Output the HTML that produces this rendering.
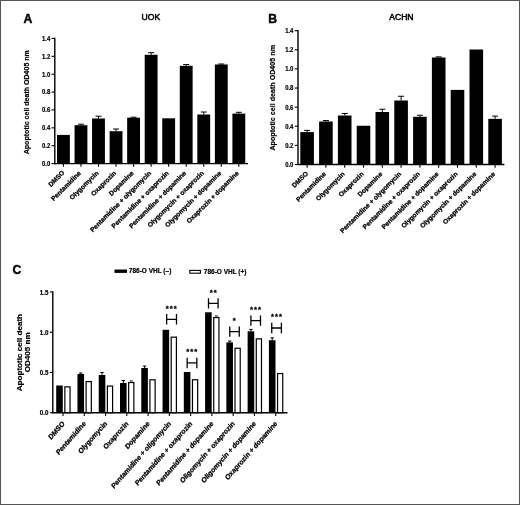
<!DOCTYPE html>
<html><head><meta charset="utf-8"><title>Figure</title>
<style>
html,body{margin:0;padding:0;background:#fff;}
body{width:520px;height:505px;overflow:hidden;}
#fig{position:relative;width:518px;height:503px;border:1px solid #555;background:#fff;}
svg{position:absolute;left:-1px;top:-1px;display:block;}
svg text{font-family:"Liberation Sans", Arial, sans-serif;fill:#000;stroke:#000;stroke-width:0.2px;stroke-linejoin:round;}
svg text.big{stroke-width:0.45px;}
svg text.xl{stroke-width:0.28px;}
svg text.ttl{stroke-width:0.5px;}
svg text.star{stroke-width:0.3px;letter-spacing:1.04px;}
</style></head><body>
<div id="fig">
<svg width="520" height="505" viewBox="0 0 520 505">
<text x="23.4" y="22.6" class="big" font-size="12.2" font-weight="bold">A</text>
<text x="150.8" y="19.7" class="ttl" font-size="8.6" text-anchor="middle">UOK</text>
<line x1="54.8" y1="37.84" x2="54.8" y2="164.2" stroke="#000" stroke-width="1.4"/>
<line x1="54.2" y1="163.6" x2="248" y2="163.6" stroke="#000" stroke-width="1.4"/>
<line x1="51.5" y1="163.6" x2="54.8" y2="163.6" stroke="#000" stroke-width="1.1"/>
<text transform="translate(50.2,165.98) scale(0.9,1)" font-size="6.6" font-weight="bold" text-anchor="end">0.0</text>
<line x1="51.5" y1="145.72" x2="54.8" y2="145.72" stroke="#000" stroke-width="1.1"/>
<text transform="translate(50.2,148.1) scale(0.9,1)" font-size="6.6" font-weight="bold" text-anchor="end">0.2</text>
<line x1="51.5" y1="127.84" x2="54.8" y2="127.84" stroke="#000" stroke-width="1.1"/>
<text transform="translate(50.2,130.22) scale(0.9,1)" font-size="6.6" font-weight="bold" text-anchor="end">0.4</text>
<line x1="51.5" y1="109.96" x2="54.8" y2="109.96" stroke="#000" stroke-width="1.1"/>
<text transform="translate(50.2,112.34) scale(0.9,1)" font-size="6.6" font-weight="bold" text-anchor="end">0.6</text>
<line x1="51.5" y1="92.08" x2="54.8" y2="92.08" stroke="#000" stroke-width="1.1"/>
<text transform="translate(50.2,94.46) scale(0.9,1)" font-size="6.6" font-weight="bold" text-anchor="end">0.8</text>
<line x1="51.5" y1="74.2" x2="54.8" y2="74.2" stroke="#000" stroke-width="1.1"/>
<text transform="translate(50.2,76.58) scale(0.9,1)" font-size="6.6" font-weight="bold" text-anchor="end">1.0</text>
<line x1="51.5" y1="56.32" x2="54.8" y2="56.32" stroke="#000" stroke-width="1.1"/>
<text transform="translate(50.2,58.7) scale(0.9,1)" font-size="6.6" font-weight="bold" text-anchor="end">1.2</text>
<line x1="51.5" y1="38.44" x2="54.8" y2="38.44" stroke="#000" stroke-width="1.1"/>
<text transform="translate(50.2,40.82) scale(0.9,1)" font-size="6.6" font-weight="bold" text-anchor="end">1.4</text>
<rect x="57" y="134.9" width="12.85" height="28.7" fill="#000"/>
<line x1="63.42" y1="163.6" x2="63.42" y2="166.8" stroke="#000" stroke-width="1.1"/>
<text class="xl" transform="translate(64.92,173.2) rotate(-45)" font-size="6.6" font-weight="bold" text-anchor="end">DMSO</text>
<line x1="80.96" y1="124.2" x2="80.96" y2="125.2" stroke="#000" stroke-width="1"/>
<line x1="77.96" y1="124.2" x2="83.96" y2="124.2" stroke="#000" stroke-width="1"/>
<rect x="74.54" y="125.2" width="12.85" height="38.4" fill="#000"/>
<line x1="80.96" y1="163.6" x2="80.96" y2="166.8" stroke="#000" stroke-width="1.1"/>
<text class="xl" transform="translate(81.46,173.6) rotate(-45)" font-size="6.6" font-weight="bold" text-anchor="end">Pentamidine</text>
<line x1="98.5" y1="116.2" x2="98.5" y2="118.5" stroke="#000" stroke-width="1"/>
<line x1="95.5" y1="116.2" x2="101.5" y2="116.2" stroke="#000" stroke-width="1"/>
<rect x="92.08" y="118.5" width="12.85" height="45.1" fill="#000"/>
<line x1="98.5" y1="163.6" x2="98.5" y2="166.8" stroke="#000" stroke-width="1.1"/>
<text class="xl" transform="translate(99,173.6) rotate(-45)" font-size="6.6" font-weight="bold" text-anchor="end">Olygomycin</text>
<line x1="116.05" y1="129" x2="116.05" y2="131.2" stroke="#000" stroke-width="1"/>
<line x1="113.05" y1="129" x2="119.05" y2="129" stroke="#000" stroke-width="1"/>
<rect x="109.62" y="131.2" width="12.85" height="32.4" fill="#000"/>
<line x1="116.05" y1="163.6" x2="116.05" y2="166.8" stroke="#000" stroke-width="1.1"/>
<text class="xl" transform="translate(116.55,173.6) rotate(-45)" font-size="6.6" font-weight="bold" text-anchor="end">Oxaprozin</text>
<line x1="133.59" y1="117.2" x2="133.59" y2="117.7" stroke="#000" stroke-width="1"/>
<line x1="130.59" y1="117.2" x2="136.59" y2="117.2" stroke="#000" stroke-width="1"/>
<rect x="127.16" y="117.7" width="12.85" height="45.9" fill="#000"/>
<line x1="133.59" y1="163.6" x2="133.59" y2="166.8" stroke="#000" stroke-width="1.1"/>
<text class="xl" transform="translate(134.09,173.6) rotate(-45)" font-size="6.6" font-weight="bold" text-anchor="end">Dopamine</text>
<line x1="151.12" y1="52.7" x2="151.12" y2="54.8" stroke="#000" stroke-width="1"/>
<line x1="148.12" y1="52.7" x2="154.12" y2="52.7" stroke="#000" stroke-width="1"/>
<rect x="144.7" y="54.8" width="12.85" height="108.8" fill="#000"/>
<line x1="151.12" y1="163.6" x2="151.12" y2="166.8" stroke="#000" stroke-width="1.1"/>
<text class="xl" transform="translate(151.62,173.6) rotate(-45)" font-size="6.6" font-weight="bold" text-anchor="end">Pentamidine + olygomycin</text>
<rect x="162.24" y="118.3" width="12.85" height="45.3" fill="#000"/>
<line x1="168.67" y1="163.6" x2="168.67" y2="166.8" stroke="#000" stroke-width="1.1"/>
<text class="xl" transform="translate(169.17,173.6) rotate(-45)" font-size="6.6" font-weight="bold" text-anchor="end">Pentamidine + oxaprozin</text>
<line x1="186.21" y1="64.5" x2="186.21" y2="65.8" stroke="#000" stroke-width="1"/>
<line x1="183.21" y1="64.5" x2="189.21" y2="64.5" stroke="#000" stroke-width="1"/>
<rect x="179.78" y="65.8" width="12.85" height="97.8" fill="#000"/>
<line x1="186.21" y1="163.6" x2="186.21" y2="166.8" stroke="#000" stroke-width="1.1"/>
<text class="xl" transform="translate(186.71,173.6) rotate(-45)" font-size="6.6" font-weight="bold" text-anchor="end">Pentamidine + dopamine</text>
<line x1="203.75" y1="112" x2="203.75" y2="114.5" stroke="#000" stroke-width="1"/>
<line x1="200.75" y1="112" x2="206.75" y2="112" stroke="#000" stroke-width="1"/>
<rect x="197.32" y="114.5" width="12.85" height="49.1" fill="#000"/>
<line x1="203.75" y1="163.6" x2="203.75" y2="166.8" stroke="#000" stroke-width="1.1"/>
<text class="xl" transform="translate(204.25,173.6) rotate(-45)" font-size="6.6" font-weight="bold" text-anchor="end">Olygomycin + oxaprozin</text>
<line x1="221.28" y1="64" x2="221.28" y2="64.5" stroke="#000" stroke-width="1"/>
<line x1="218.28" y1="64" x2="224.28" y2="64" stroke="#000" stroke-width="1"/>
<rect x="214.86" y="64.5" width="12.85" height="99.1" fill="#000"/>
<line x1="221.28" y1="163.6" x2="221.28" y2="166.8" stroke="#000" stroke-width="1.1"/>
<text class="xl" transform="translate(221.78,173.6) rotate(-45)" font-size="6.6" font-weight="bold" text-anchor="end">Olygomycin + dopamine</text>
<line x1="238.82" y1="112.3" x2="238.82" y2="113.6" stroke="#000" stroke-width="1"/>
<line x1="235.82" y1="112.3" x2="241.82" y2="112.3" stroke="#000" stroke-width="1"/>
<rect x="232.4" y="113.6" width="12.85" height="50" fill="#000"/>
<line x1="238.82" y1="163.6" x2="238.82" y2="166.8" stroke="#000" stroke-width="1.1"/>
<text class="xl" transform="translate(239.32,173.6) rotate(-45)" font-size="6.6" font-weight="bold" text-anchor="end">Oxaprozin + dopamine</text>
<text transform="translate(29.2,102.2) rotate(-90)" font-size="7.05" font-weight="bold" text-anchor="middle">Apoptotic cell death OD405 nm</text>
<text x="268.2" y="22.5" class="big" font-size="12.2" font-weight="bold">B</text>
<text x="401.4" y="19.7" class="ttl" font-size="8.6" text-anchor="middle">ACHN</text>
<line x1="298" y1="30.06" x2="298" y2="165.1" stroke="#000" stroke-width="1.4"/>
<line x1="297.4" y1="164.5" x2="504.4" y2="164.5" stroke="#000" stroke-width="1.4"/>
<line x1="294.7" y1="164.5" x2="298" y2="164.5" stroke="#000" stroke-width="1.1"/>
<text transform="translate(293.4,166.88) scale(0.9,1)" font-size="6.6" font-weight="bold" text-anchor="end">0.0</text>
<line x1="294.7" y1="145.38" x2="298" y2="145.38" stroke="#000" stroke-width="1.1"/>
<text transform="translate(293.4,147.76) scale(0.9,1)" font-size="6.6" font-weight="bold" text-anchor="end">0.2</text>
<line x1="294.7" y1="126.26" x2="298" y2="126.26" stroke="#000" stroke-width="1.1"/>
<text transform="translate(293.4,128.64) scale(0.9,1)" font-size="6.6" font-weight="bold" text-anchor="end">0.4</text>
<line x1="294.7" y1="107.14" x2="298" y2="107.14" stroke="#000" stroke-width="1.1"/>
<text transform="translate(293.4,109.52) scale(0.9,1)" font-size="6.6" font-weight="bold" text-anchor="end">0.6</text>
<line x1="294.7" y1="88.02" x2="298" y2="88.02" stroke="#000" stroke-width="1.1"/>
<text transform="translate(293.4,90.4) scale(0.9,1)" font-size="6.6" font-weight="bold" text-anchor="end">0.8</text>
<line x1="294.7" y1="68.9" x2="298" y2="68.9" stroke="#000" stroke-width="1.1"/>
<text transform="translate(293.4,71.28) scale(0.9,1)" font-size="6.6" font-weight="bold" text-anchor="end">1.0</text>
<line x1="294.7" y1="49.78" x2="298" y2="49.78" stroke="#000" stroke-width="1.1"/>
<text transform="translate(293.4,52.16) scale(0.9,1)" font-size="6.6" font-weight="bold" text-anchor="end">1.2</text>
<line x1="294.7" y1="30.66" x2="298" y2="30.66" stroke="#000" stroke-width="1.1"/>
<text transform="translate(293.4,33.04) scale(0.9,1)" font-size="6.6" font-weight="bold" text-anchor="end">1.4</text>
<line x1="307.1" y1="130.4" x2="307.1" y2="132.1" stroke="#000" stroke-width="1"/>
<line x1="304.1" y1="130.4" x2="310.1" y2="130.4" stroke="#000" stroke-width="1"/>
<rect x="300.3" y="132.1" width="13.6" height="32.4" fill="#000"/>
<line x1="307.1" y1="164.5" x2="307.1" y2="167.7" stroke="#000" stroke-width="1.1"/>
<text class="xl" transform="translate(308.6,174.1) rotate(-45)" font-size="6.6" font-weight="bold" text-anchor="end">DMSO</text>
<line x1="325.9" y1="120.5" x2="325.9" y2="121.5" stroke="#000" stroke-width="1"/>
<line x1="322.9" y1="120.5" x2="328.9" y2="120.5" stroke="#000" stroke-width="1"/>
<rect x="319.1" y="121.5" width="13.6" height="43" fill="#000"/>
<line x1="325.9" y1="164.5" x2="325.9" y2="167.7" stroke="#000" stroke-width="1.1"/>
<text class="xl" transform="translate(326.4,174.5) rotate(-45)" font-size="6.6" font-weight="bold" text-anchor="end">Pentamidine</text>
<line x1="344.7" y1="113.5" x2="344.7" y2="115.5" stroke="#000" stroke-width="1"/>
<line x1="341.7" y1="113.5" x2="347.7" y2="113.5" stroke="#000" stroke-width="1"/>
<rect x="337.9" y="115.5" width="13.6" height="49" fill="#000"/>
<line x1="344.7" y1="164.5" x2="344.7" y2="167.7" stroke="#000" stroke-width="1.1"/>
<text class="xl" transform="translate(345.2,174.5) rotate(-45)" font-size="6.6" font-weight="bold" text-anchor="end">Olygomycin</text>
<rect x="356.7" y="125.75" width="13.6" height="38.75" fill="#000"/>
<line x1="363.5" y1="164.5" x2="363.5" y2="167.7" stroke="#000" stroke-width="1.1"/>
<text class="xl" transform="translate(364,174.5) rotate(-45)" font-size="6.6" font-weight="bold" text-anchor="end">Oxaprozin</text>
<line x1="382.3" y1="109.25" x2="382.3" y2="112" stroke="#000" stroke-width="1"/>
<line x1="379.3" y1="109.25" x2="385.3" y2="109.25" stroke="#000" stroke-width="1"/>
<rect x="375.5" y="112" width="13.6" height="52.5" fill="#000"/>
<line x1="382.3" y1="164.5" x2="382.3" y2="167.7" stroke="#000" stroke-width="1.1"/>
<text class="xl" transform="translate(382.8,174.5) rotate(-45)" font-size="6.6" font-weight="bold" text-anchor="end">Dopamine</text>
<line x1="401.1" y1="96.25" x2="401.1" y2="100.5" stroke="#000" stroke-width="1"/>
<line x1="398.1" y1="96.25" x2="404.1" y2="96.25" stroke="#000" stroke-width="1"/>
<rect x="394.3" y="100.5" width="13.6" height="64" fill="#000"/>
<line x1="401.1" y1="164.5" x2="401.1" y2="167.7" stroke="#000" stroke-width="1.1"/>
<text class="xl" transform="translate(401.6,174.5) rotate(-45)" font-size="6.6" font-weight="bold" text-anchor="end">Pentamidine + olygomycin</text>
<line x1="419.9" y1="115.25" x2="419.9" y2="116.8" stroke="#000" stroke-width="1"/>
<line x1="416.9" y1="115.25" x2="422.9" y2="115.25" stroke="#000" stroke-width="1"/>
<rect x="413.1" y="116.8" width="13.6" height="47.7" fill="#000"/>
<line x1="419.9" y1="164.5" x2="419.9" y2="167.7" stroke="#000" stroke-width="1.1"/>
<text class="xl" transform="translate(420.4,174.5) rotate(-45)" font-size="6.6" font-weight="bold" text-anchor="end">Pentamidine + oxaprozin</text>
<line x1="438.7" y1="56.9" x2="438.7" y2="57.5" stroke="#000" stroke-width="1"/>
<line x1="435.7" y1="56.9" x2="441.7" y2="56.9" stroke="#000" stroke-width="1"/>
<rect x="431.9" y="57.5" width="13.6" height="107" fill="#000"/>
<line x1="438.7" y1="164.5" x2="438.7" y2="167.7" stroke="#000" stroke-width="1.1"/>
<text class="xl" transform="translate(439.2,174.5) rotate(-45)" font-size="6.6" font-weight="bold" text-anchor="end">Pentamidine + dopamine</text>
<rect x="450.7" y="89.9" width="13.6" height="74.6" fill="#000"/>
<line x1="457.5" y1="164.5" x2="457.5" y2="167.7" stroke="#000" stroke-width="1.1"/>
<text class="xl" transform="translate(458,174.5) rotate(-45)" font-size="6.6" font-weight="bold" text-anchor="end">Olygomycin + oxaprozin</text>
<rect x="469.5" y="49.5" width="13.6" height="115" fill="#000"/>
<line x1="476.3" y1="164.5" x2="476.3" y2="167.7" stroke="#000" stroke-width="1.1"/>
<text class="xl" transform="translate(476.8,174.5) rotate(-45)" font-size="6.6" font-weight="bold" text-anchor="end">Olygomycin + dopamine</text>
<line x1="495.1" y1="116.1" x2="495.1" y2="118.85" stroke="#000" stroke-width="1"/>
<line x1="492.1" y1="116.1" x2="498.1" y2="116.1" stroke="#000" stroke-width="1"/>
<rect x="488.3" y="118.85" width="13.6" height="45.65" fill="#000"/>
<line x1="495.1" y1="164.5" x2="495.1" y2="167.7" stroke="#000" stroke-width="1.1"/>
<text class="xl" transform="translate(495.6,174.5) rotate(-45)" font-size="6.6" font-weight="bold" text-anchor="end">Oxaprozin + dopamine</text>
<text transform="translate(274.9,97.8) rotate(-90)" font-size="7.15" font-weight="bold" text-anchor="middle">Apoptotic cell death OD405 nm</text>
<text x="12.5" y="273.8" class="big" font-size="12.2" font-weight="bold">C</text>
<line x1="52.8" y1="291.35" x2="52.8" y2="413.3" stroke="#000" stroke-width="1.4"/>
<line x1="52.2" y1="412.7" x2="287.5" y2="412.7" stroke="#000" stroke-width="1.4"/>
<line x1="49.8" y1="412.7" x2="52.8" y2="412.7" stroke="#000" stroke-width="1.1"/>
<text transform="translate(48.4,415.3) scale(0.88,1)" font-size="7" font-weight="bold" text-anchor="end">0.0</text>
<line x1="49.8" y1="372.45" x2="52.8" y2="372.45" stroke="#000" stroke-width="1.1"/>
<text transform="translate(48.4,375.05) scale(0.88,1)" font-size="7" font-weight="bold" text-anchor="end">0.5</text>
<line x1="49.8" y1="332.2" x2="52.8" y2="332.2" stroke="#000" stroke-width="1.1"/>
<text transform="translate(48.4,334.8) scale(0.88,1)" font-size="7" font-weight="bold" text-anchor="end">1.0</text>
<line x1="49.8" y1="291.95" x2="52.8" y2="291.95" stroke="#000" stroke-width="1.1"/>
<text transform="translate(48.4,294.55) scale(0.88,1)" font-size="7" font-weight="bold" text-anchor="end">1.5</text>
<rect x="56.2" y="385.5" width="6.6" height="27.2" fill="#000"/>
<rect x="64.85" y="386.85" width="5.2" height="25.85" fill="#fff" stroke="#000" stroke-width="1.2"/>
<line x1="63" y1="412.7" x2="63" y2="415.9" stroke="#000" stroke-width="1.1"/>
<text class="xl" transform="translate(65,424.2) scale(0.94,1.06) rotate(-45)" font-size="7" font-weight="bold" text-anchor="end">DMSO</text>
<line x1="80.77" y1="373" x2="80.77" y2="374" stroke="#000" stroke-width="1"/>
<line x1="79.07" y1="373" x2="82.47" y2="373" stroke="#000" stroke-width="1"/>
<rect x="77.47" y="374" width="6.6" height="38.7" fill="#000"/>
<rect x="86.12" y="381.55" width="5.2" height="31.15" fill="#fff" stroke="#000" stroke-width="1.2"/>
<line x1="84.27" y1="412.7" x2="84.27" y2="415.9" stroke="#000" stroke-width="1.1"/>
<text class="xl" transform="translate(86.27,424.2) scale(0.94,1.06) rotate(-45)" font-size="7" font-weight="bold" text-anchor="end">Pentamidine</text>
<line x1="102.04" y1="372.5" x2="102.04" y2="375" stroke="#000" stroke-width="1"/>
<line x1="100.34" y1="372.5" x2="103.74" y2="372.5" stroke="#000" stroke-width="1"/>
<rect x="98.74" y="375" width="6.6" height="37.7" fill="#000"/>
<rect x="107.39" y="386.05" width="5.2" height="26.65" fill="#fff" stroke="#000" stroke-width="1.2"/>
<line x1="105.54" y1="412.7" x2="105.54" y2="415.9" stroke="#000" stroke-width="1.1"/>
<text class="xl" transform="translate(107.54,424.2) scale(0.94,1.06) rotate(-45)" font-size="7" font-weight="bold" text-anchor="end">Olygomycin</text>
<line x1="123.31" y1="380.5" x2="123.31" y2="383" stroke="#000" stroke-width="1"/>
<line x1="121.61" y1="380.5" x2="125.01" y2="380.5" stroke="#000" stroke-width="1"/>
<rect x="120.01" y="383" width="6.6" height="29.7" fill="#000"/>
<line x1="129.76" y1="381" x2="132.76" y2="381" stroke="#000" stroke-width="1"/>
<rect x="128.66" y="382.55" width="5.2" height="30.15" fill="#fff" stroke="#000" stroke-width="1.2"/>
<line x1="126.81" y1="412.7" x2="126.81" y2="415.9" stroke="#000" stroke-width="1.1"/>
<text class="xl" transform="translate(128.81,424.2) scale(0.94,1.06) rotate(-45)" font-size="7" font-weight="bold" text-anchor="end">Oxaprozin</text>
<line x1="144.58" y1="366" x2="144.58" y2="368" stroke="#000" stroke-width="1"/>
<line x1="142.88" y1="366" x2="146.28" y2="366" stroke="#000" stroke-width="1"/>
<rect x="141.28" y="368" width="6.6" height="44.7" fill="#000"/>
<rect x="149.93" y="379.8" width="5.2" height="32.9" fill="#fff" stroke="#000" stroke-width="1.2"/>
<line x1="148.08" y1="412.7" x2="148.08" y2="415.9" stroke="#000" stroke-width="1.1"/>
<text class="xl" transform="translate(150.08,424.2) scale(0.94,1.06) rotate(-45)" font-size="7" font-weight="bold" text-anchor="end">Dopamine</text>
<rect x="162.55" y="329.8" width="6.6" height="82.9" fill="#000"/>
<rect x="171.2" y="337.15" width="5.2" height="75.55" fill="#fff" stroke="#000" stroke-width="1.2"/>
<line x1="169.35" y1="412.7" x2="169.35" y2="415.9" stroke="#000" stroke-width="1.1"/>
<text class="xl" transform="translate(171.35,424.2) scale(0.94,1.06) rotate(-45)" font-size="7" font-weight="bold" text-anchor="end">Pentamidine + oligomycin</text>
<path d="M166.65 314.1V324.5M176.5 314.1V324.5M166.65 319.3H176.5" stroke="#000" stroke-width="1.3" fill="none"/>
<text class="star" x="165.81" y="310.72" font-size="7.6" font-weight="bold">***</text>
<rect x="183.82" y="372" width="6.6" height="40.7" fill="#000"/>
<rect x="192.47" y="379.75" width="5.2" height="32.95" fill="#fff" stroke="#000" stroke-width="1.2"/>
<line x1="190.62" y1="412.7" x2="190.62" y2="415.9" stroke="#000" stroke-width="1.1"/>
<text class="xl" transform="translate(192.62,424.2) scale(0.94,1.06) rotate(-45)" font-size="7" font-weight="bold" text-anchor="end">Pentamidine + oxaprozin</text>
<path d="M187.15 357.75V368.15M196.85 357.75V368.15M187.15 362.95H196.85" stroke="#000" stroke-width="1.3" fill="none"/>
<text class="star" x="186.26" y="354.37" font-size="7.6" font-weight="bold">***</text>
<rect x="205.09" y="312.3" width="6.6" height="100.4" fill="#000"/>
<line x1="214.84" y1="316" x2="217.84" y2="316" stroke="#000" stroke-width="1"/>
<rect x="213.74" y="317.55" width="5.2" height="95.15" fill="#fff" stroke="#000" stroke-width="1.2"/>
<line x1="211.89" y1="412.7" x2="211.89" y2="415.9" stroke="#000" stroke-width="1.1"/>
<text class="xl" transform="translate(213.89,424.2) scale(0.94,1.06) rotate(-45)" font-size="7" font-weight="bold" text-anchor="end">Pentamidine + dopamine</text>
<path d="M208.5 298.2V308.6M218.1 298.2V308.6M208.5 303.4H218.1" stroke="#000" stroke-width="1.3" fill="none"/>
<text class="star" x="209.76" y="294.82" font-size="7.6" font-weight="bold">**</text>
<line x1="229.66" y1="341" x2="229.66" y2="342.4" stroke="#000" stroke-width="1"/>
<line x1="227.96" y1="341" x2="231.36" y2="341" stroke="#000" stroke-width="1"/>
<rect x="226.36" y="342.4" width="6.6" height="70.3" fill="#000"/>
<rect x="235.01" y="348.25" width="5.2" height="64.45" fill="#fff" stroke="#000" stroke-width="1.2"/>
<line x1="233.16" y1="412.7" x2="233.16" y2="415.9" stroke="#000" stroke-width="1.1"/>
<text class="xl" transform="translate(235.16,424.2) scale(0.94,1.06) rotate(-45)" font-size="7" font-weight="bold" text-anchor="end">Oligomycin + oxaprozin</text>
<path d="M229.75 326.4V336.8M239.25 326.4V336.8M229.75 331.6H239.25" stroke="#000" stroke-width="1.3" fill="none"/>
<text class="star" x="232.66" y="323.02" font-size="7.6" font-weight="bold">*</text>
<line x1="250.93" y1="329.4" x2="250.93" y2="331.3" stroke="#000" stroke-width="1"/>
<line x1="249.23" y1="329.4" x2="252.63" y2="329.4" stroke="#000" stroke-width="1"/>
<rect x="247.63" y="331.3" width="6.6" height="81.4" fill="#000"/>
<rect x="256.28" y="338.85" width="5.2" height="73.85" fill="#fff" stroke="#000" stroke-width="1.2"/>
<line x1="254.43" y1="412.7" x2="254.43" y2="415.9" stroke="#000" stroke-width="1.1"/>
<text class="xl" transform="translate(256.43,424.2) scale(0.94,1.06) rotate(-45)" font-size="7" font-weight="bold" text-anchor="end">Oligomycin + dopamine</text>
<path d="M250.9 315.4V325.8M260.5 315.4V325.8M250.9 320.6H260.5" stroke="#000" stroke-width="1.3" fill="none"/>
<text class="star" x="250.06" y="312.02" font-size="7.6" font-weight="bold">***</text>
<line x1="272.2" y1="337.8" x2="272.2" y2="340.2" stroke="#000" stroke-width="1"/>
<line x1="270.5" y1="337.8" x2="273.9" y2="337.8" stroke="#000" stroke-width="1"/>
<rect x="268.9" y="340.2" width="6.6" height="72.5" fill="#000"/>
<rect x="277.55" y="373.55" width="5.2" height="39.15" fill="#fff" stroke="#000" stroke-width="1.2"/>
<line x1="275.7" y1="412.7" x2="275.7" y2="415.9" stroke="#000" stroke-width="1.1"/>
<text class="xl" transform="translate(277.7,424.2) scale(0.94,1.06) rotate(-45)" font-size="7" font-weight="bold" text-anchor="end">Oxaprozin + dopamine</text>
<path d="M271.75 322.8V333.2M281.4 322.8V333.2M271.75 328H281.4" stroke="#000" stroke-width="1.3" fill="none"/>
<text class="star" x="270.91" y="319.42" font-size="7.6" font-weight="bold">***</text>
<text transform="translate(21.6,352.6) rotate(-90) scale(1,0.87)" font-size="8.1" font-weight="bold" text-anchor="middle">Apoptotic cell death</text>
<text transform="translate(30.3,352.3) rotate(-90) scale(1,0.87)" font-size="8.1" font-weight="bold" text-anchor="middle">OD405 nm</text>
<rect x="114.5" y="269.5" width="12.5" height="3.4" fill="#000"/>
<text x="128.8" y="273.3" font-size="6.5" font-weight="bold">786-O VHL (–)</text>
<rect x="189.8" y="270.4" width="10.6" height="2.8" fill="#fff" stroke="#000" stroke-width="1.1"/>
<text x="203.8" y="274.0" font-size="6.5" font-weight="bold">786-O VHL (+)</text>
</svg>
</div>
</body></html>
